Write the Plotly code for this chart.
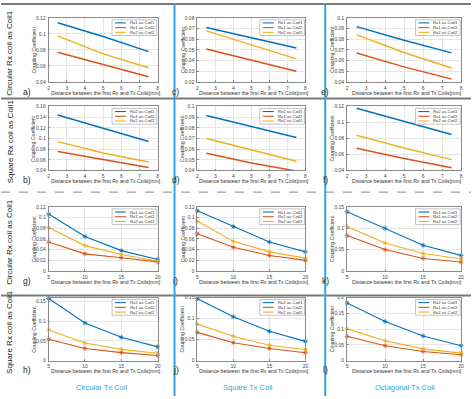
import plotly.graph_objects as go

W, H = 474, 399

# ---------------- data ----------------
x_short = [2.5, 5, 7.5]
x_long = [5, 10, 15, 20]

labels_rx1 = ["Rx1 as Coil1", "Rx1 as Coil2", "Rx2 as Coil2"]
labels_rx2 = ["Rx2 as Coil1", "Rx1 as Coil2", "Rx2 as Coil2"]

# row 1 (circular Rx as coil1) - small distances
a_blue = [0.1138, 0.0966, 0.0777]
a_orange = [0.0769, 0.0613, 0.0462]
a_yellow = [0.0974, 0.0749, 0.0576]
c_blue = [0.0708, 0.0612, 0.0517]
c_orange = [0.0508, 0.0400, 0.0298]
c_yellow = [0.0677, 0.0545, 0.0415]
e_blue = [0.0917, 0.0790, 0.0671]
e_orange = [0.0670, 0.0540, 0.0425]
e_yellow = [0.0840, 0.0675, 0.0530]
# row 2 (square Rx as coil1) - small distances
b_blue = [0.1440, 0.1190, 0.0942]
b_orange = [0.0757, 0.0603, 0.0455]
b_yellow = [0.0940, 0.0726, 0.0560]
d_blue = [0.0914, 0.0810, 0.0708]
d_orange = [0.0562, 0.0470, 0.0395]
d_yellow = [0.0700, 0.0590, 0.0486]
f_blue = [0.1176, 0.1010, 0.0849]
f_orange = [0.0678, 0.0550, 0.0433]
f_yellow = [0.0840, 0.0680, 0.0535]
# row 3 (circular Rx as coil1) - large distances
g_blue = [0.1065, 0.0646, 0.0380, 0.0215]
g_orange = [0.0542, 0.0320, 0.0246, 0.0170]
g_yellow = [0.0812, 0.0474, 0.0308, 0.0185]
i_blue = [0.1126, 0.0830, 0.0540, 0.0357]
i_orange = [0.0695, 0.0443, 0.0290, 0.0197]
i_yellow = [0.0935, 0.0554, 0.0357, 0.0240]
k_blue = [0.1385, 0.1000, 0.0600, 0.0362]
k_orange = [0.0830, 0.0500, 0.0292, 0.0208]
k_yellow = [0.1038, 0.0654, 0.0408, 0.0285]
# row 4 (square Rx as coil1) - large distances
h_blue = [0.1576, 0.0954, 0.0590, 0.0347]
h_orange = [0.0541, 0.0307, 0.0202, 0.0129]
h_yellow = [0.0776, 0.0444, 0.0283, 0.0186]
j_blue = [0.1470, 0.1040, 0.0696, 0.0456]
j_orange = [0.0670, 0.0425, 0.0286, 0.0185]
j_yellow = [0.0866, 0.0580, 0.0363, 0.0263]
l_blue = [0.1826, 0.1240, 0.0780, 0.0470]
l_orange = [0.0770, 0.0470, 0.0287, 0.0185]
l_yellow = [0.1005, 0.0626, 0.0370, 0.0236]

row_titles = ["Circular Rx coil as Coil1", "Square Rx coil as Coil1",
              "Circular Rx coil as Coil1", "Square Rx coil as Coil1"]
col_titles = ["Circular Tx Coil", "Square Tx Coil", "Octagonal Tx Coil"]
x_title = "Distance between the first Rx and Tx Coils[mm]"
y_title = "Coupling Coefficient"

# panels: (letter, row, col, x, series, labels, yrange, ydtick)
panels = [
    ("a", 0, 0, x_short, (a_blue, a_orange, a_yellow), labels_rx1, [0.04, 0.12], 0.02),
    ("c", 0, 1, x_short, (c_blue, c_orange, c_yellow), labels_rx1, [0.02, 0.08], 0.01),
    ("e", 0, 2, x_short, (e_blue, e_orange, e_yellow), labels_rx1, [0.04, 0.10], 0.01),
    ("b", 1, 0, x_short, (b_blue, b_orange, b_yellow), labels_rx2, [0.04, 0.16], 0.02),
    ("d", 1, 1, x_short, (d_blue, d_orange, d_yellow), labels_rx2, [0.04, 0.10], 0.01),
    ("f", 1, 2, x_short, (f_blue, f_orange, f_yellow), labels_rx2, [0.04, 0.12], 0.02),
    ("g", 2, 0, x_long, (g_blue, g_orange, g_yellow), labels_rx1, [0, 0.12], 0.02),
    ("i", 2, 1, x_long, (i_blue, i_orange, i_yellow), labels_rx1, [0, 0.12], 0.02),
    ("k", 2, 2, x_long, (k_blue, k_orange, k_yellow), labels_rx1, [0, 0.15], 0.05),
    ("h", 3, 0, x_long, (h_blue, h_orange, h_yellow), labels_rx2, [0, 0.16], 0.05),
    ("j", 3, 1, x_long, (j_blue, j_orange, j_yellow), labels_rx2, [0, 0.15], 0.05),
    ("l", 3, 2, x_long, (l_blue, l_orange, l_yellow), labels_rx2, [0, 0.20], 0.05),
]

colors = ["#0072BD", "#D95319", "#EDB120"]
FONT = "Liberation Sans, Arial, sans-serif"
SEP_BLUE = "#2aa7df"

# ---------------- layout geometry (pixels) ----------------
col_px = [(48, 158), (198, 307), (349, 464)]
row_px = [(15, 80), (105, 170), (207, 272), (299, 363)]


def fx(px):
    return px / W


def fy(py):
    return 1 - py / H


fig = go.Figure()
layout = dict(
    width=W, height=H, margin=dict(l=0, r=0, t=0, b=0),
    paper_bgcolor="white", plot_bgcolor="white", showlegend=False,
    font=dict(family=FONT, size=5, color="#333"),
)
shapes, annotations = [], []

for idx, (letter, r, c, xs, series, labs, yr, ydt) in enumerate(panels):
    n = idx + 1
    xa = "x" if n == 1 else f"x{n}"
    ya = "y" if n == 1 else f"y{n}"
    x0, x1 = col_px[c]
    y0, y1 = row_px[r]
    small = r < 2
    for s, col, lab in zip(series, colors, labs):
        fig.add_trace(go.Scatter(
            x=xs, y=s, mode="lines" if small else "lines+markers",
            line=dict(color=col, width=1.5 if small else 1.1),
            marker=dict(symbol="asterisk-open", size=4, color=col,
                        line=dict(color=col, width=0.8)),
            name=lab, xaxis=xa, yaxis=ya, cliponaxis=False))
    axis_common = dict(showline=True, linecolor="#8a8a8a", linewidth=0.8, mirror=True,
                       showgrid=True, gridcolor="#e6e6e6", gridwidth=0.6,
                       ticks="inside", ticklen=2, tickcolor="#8a8a8a",
                       tickfont=dict(size=5, color="#444", family=FONT),
                       zeroline=False, fixedrange=True)
    if small:
        xr, xt = [2, 8], list(range(2, 9))
    else:
        xr, xt = [5, 20], [5, 10, 15, 20]
    layout["xaxis" if n == 1 else f"xaxis{n}"] = dict(
        domain=[fx(x0), fx(x1)], anchor=ya, range=xr, tickvals=xt, ticklabelstandoff=1,
        **axis_common)
    yt = []
    v = yr[0]
    while v <= yr[1] + 1e-9:
        yt.append(round(v, 4))
        v += ydt
    layout["yaxis" if n == 1 else f"yaxis{n}"] = dict(
        domain=[fy(y1), fy(y0)], anchor=xa, range=yr, tickvals=yt, ticklabelstandoff=1,
        **axis_common)

    # axis titles
    annotations.append(dict(x=fx((x0 + x1) / 2 + 3), y=fy(y1 + 11), xref="paper", yref="paper",
                             text=x_title, showarrow=False, font=dict(size=5.2, color="#333"),
                             xanchor="center", yanchor="middle"))
    annotations.append(dict(x=fx(x0 - 15), y=fy((y0 + y1) / 2), xref="paper", yref="paper",
                             text=y_title, showarrow=False, textangle=-90,
                             font=dict(size=5.2, color="#333"),
                             xanchor="center", yanchor="middle"))
    # panel label
    annotations.append(dict(x=fx(x0 - 22), y=fy(y1 + 10), xref="paper", yref="paper",
                             text=f"{letter})", showarrow=False,
                             font=dict(size=8.5, color="#222"),
                             xanchor="center", yanchor="middle"))
    # manual legend box
    lx1 = x1 - 1
    lx0 = lx1 - 45
    ly0 = y0 + 2
    ly1 = ly0 + 16
    shapes.append(dict(type="rect", xref="paper", yref="paper",
                       x0=fx(lx0), x1=fx(lx1), y0=fy(ly1), y1=fy(ly0),
                       fillcolor="white", line=dict(color="#9a9a9a", width=0.6), layer="above"))
    for k, (col, lab) in enumerate(zip(colors, labs)):
        yy = ly0 + 3.2 + k * 4.8
        shapes.append(dict(type="line", xref="paper", yref="paper",
                           x0=fx(lx0 + 3), x1=fx(lx0 + 14), y0=fy(yy), y1=fy(yy),
                           line=dict(color=col, width=1.1), layer="above"))
        annotations.append(dict(x=fx(lx0 + 16), y=fy(yy), xref="paper", yref="paper",
                                text=lab, showarrow=False, font=dict(size=4.3, color="#333"),
                                xanchor="left", yanchor="middle"))

# row titles
for r, t in enumerate(row_titles):
    y0, y1 = row_px[r]
    annotations.append(dict(x=fx(9), y=fy((y0 + y1) / 2 + 3), xref="paper", yref="paper",
                            text=t, showarrow=False, textangle=-90,
                            font=dict(size=8, color="#222"),
                            xanchor="center", yanchor="middle"))
# column titles
for cx, t in zip([101, 249, 407], col_titles):
    annotations.append(dict(x=fx(cx), y=fy(390), xref="paper", yref="paper",
                            text=t, showarrow=False, font=dict(size=7.5, color=SEP_BLUE),
                            xanchor="center", yanchor="middle"))

# separators
shapes.append(dict(type="line", xref="paper", yref="paper", x0=0, x1=1,
                   y0=fy(1), y1=fy(1), line=dict(color="#7a7a7a", width=2)))
shapes.append(dict(type="line", xref="paper", yref="paper", x0=0, x1=1,
                   y0=fy(97), y1=fy(97), line=dict(color="#7a7a7a", width=2)))
shapes.append(dict(type="line", xref="paper", yref="paper", x0=0, x1=1,
                   y0=fy(192), y1=fy(192), line=dict(color="#8a8a8a", width=1, dash="dash")))
shapes.append(dict(type="line", xref="paper", yref="paper", x0=0, x1=1,
                   y0=fy(297), y1=fy(297), line=dict(color="#7a7a7a", width=2)))
for vx in [175, 327]:
    shapes.append(dict(type="line", xref="paper", yref="paper", x0=fx(vx), x1=fx(vx),
                       y0=0, y1=1, line=dict(color=SEP_BLUE, width=2)))

layout["shapes"] = shapes
layout["annotations"] = annotations
fig.update_layout(**layout)
fig.write_html("out.html", config={"displayModeBar": False},
               post_script="document.body.style.margin='0';document.body.style.overflow='hidden';")
